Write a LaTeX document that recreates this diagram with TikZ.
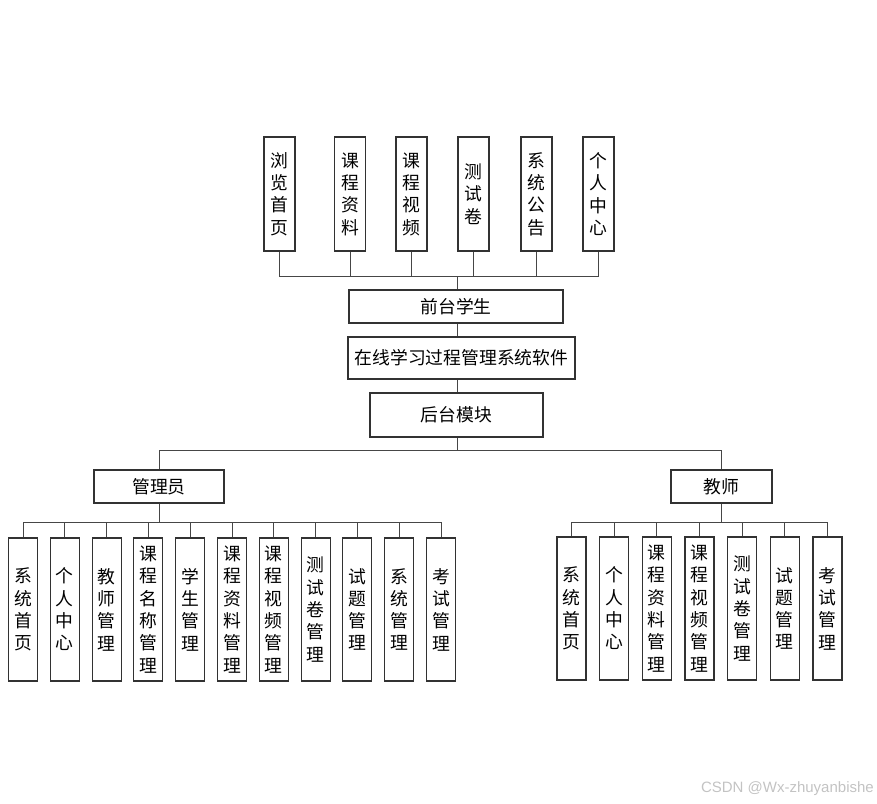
\documentclass[tikz,border=0pt]{standalone}
\usepackage{fontspec}
\newfontfamily\cjkfont{Noto Sans CJK SC}
\newfontfamily\wmfont{Liberation Sans}
\usetikzlibrary{positioning}
\definecolor{edgeGray}{RGB}{50,50,50}
\definecolor{linkGray}{RGB}{70,70,70}
\definecolor{markGray}{RGB}{195,195,195}
\tikzset{
  modBox/.style   = {rectangle, draw=edgeGray, line width=1.1pt, fill=white,
                     inner sep=0pt, align=center,
                     font=\cjkfont\fontsize{17.8}{22.3}\selectfont},
  topBox/.style   = {modBox, minimum width=31, minimum height=114},
  subBox/.style   = {modBox, minimum width=29, minimum height=143},
  linkLine/.style = {draw=linkGray, line width=1pt},
  wMark/.style    = {text=markGray, inner sep=0pt,
                     font=\wmfont\fontsize{15}{18}\selectfont},
}

\begin{document}
\begin{tikzpicture}[x=1pt,y=-1pt]
  \useasboundingbox (0,0) rectangle (877,803);
  % front end
  \foreach \t/\x [count=\i] in {浏\\览\\首\\页/279.5, 课\\程\\资\\料/350,
      课\\程\\视\\频/411.5, 测\\试\\卷/473.5, 系\\统\\公\\告/536.5,
      个\\人\\中\\心/598.5}
    {\node[topBox](top\i) at (\x,194){\t};}
  \node[modBox,minimum width=214,minimum height=33](front) at (456,306.5){前台学生};
  \node[modBox,minimum width=227,minimum height=42](soft) at (461.5,358){在线学习过程管理系统软件};
  \node[modBox,minimum width=173,minimum height=44](back) at (456.5,415){后台模块};
  \coordinate (busT) at (457,276);
  \draw[linkLine](front.north -| busT)--(busT);
  \foreach \i in {1,...,6}{\draw[linkLine](busT)-|(top\i.south);}
  \draw[linkLine](front.south -| busT)--(soft.north -| busT);
  \draw[linkLine](soft.south -| busT)--(back.north -| busT);
  % back end
  \node[modBox,minimum width=130,minimum height=33](adm) at (159,486.5){管理员};
  \node[modBox,minimum width=101,minimum height=33](tea) at (721.5,486.5){教师};
  \coordinate (busB) at (457,450);
  \draw[linkLine](back.south -| busB)--(busB);
  \draw[linkLine](busB)-|(adm.north);
  \draw[linkLine](busB)-|(tea.north);
  % admin modules
  \foreach \t [count=\i] in {系\\统\\首\\页, 个\\人\\中\\心, 教\\师\\管\\理,
      课\\程\\名\\称\\管\\理, 学\\生\\管\\理, 课\\程\\资\\料\\管\\理,
      课\\程\\视\\频\\管\\理, 测\\试\\卷\\管\\理, 试\\题\\管\\理,
      系\\统\\管\\理, 考\\试\\管\\理}
    {\node[subBox](adm\i) at ({23+41.8*(\i-1)},609.5){\t};}
  \coordinate (busA) at (159,522);
  \draw[linkLine](adm.south)--(busA);
  \foreach \i in {1,...,11}{\draw[linkLine](busA)-|(adm\i.north);}
  % teacher modules
  \foreach \t [count=\i] in {系\\统\\首\\页, 个\\人\\中\\心,
      课\\程\\资\\料\\管\\理, 课\\程\\视\\频\\管\\理, 测\\试\\卷\\管\\理,
      试\\题\\管\\理, 考\\试\\管\\理}
    {\node[subBox](tea\i) at ({571.5+42.67*(\i-1)},608.5){\t};}
  \coordinate (busE) at (721.5,522);
  \draw[linkLine](tea.south)--(busE);
  \foreach \i in {1,...,7}{\draw[linkLine](busE)-|(tea\i.north);}
  \node[wMark,anchor=east](csdn) at (874,789){CSDN @Wx-zhuyanbishe};
\end{tikzpicture}
\end{document}
